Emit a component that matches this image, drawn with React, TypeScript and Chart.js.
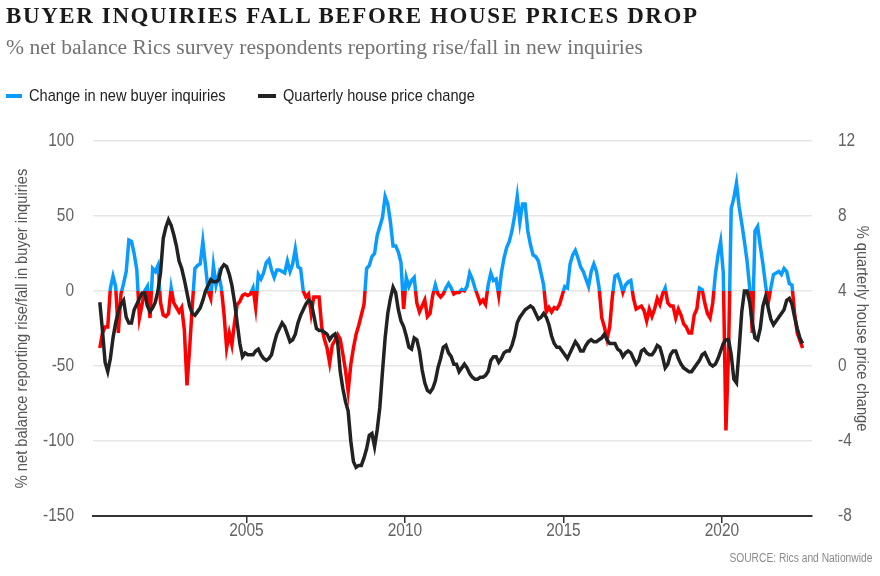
import React, { useEffect, useRef } from "react";
import { Chart, registerables } from "chart.js";

Chart.register(...registerables);

// Monthly observations, first one is May 2000
const START_YEAR = 2000;
const START_MONTH = 5;

// RICS new buyer inquiries, % net balance (left axis)
const buyerInquiries = [
  -38, -28, -24, -24, 2, 10, 3, -28, -2, 5,
  13, 34, 33, 25, 14, -18, -9, 0, 3, -18,
  15, 13, 17, -8, -16, -17, -15, 2, -8, -11,
  -14, -11, -26, -63, -38, -10, 15, 17, 18, 33,
  17, 0, -5, 17, 4, 11, 2, -15, -38, -28,
  -36, -21, -9, -7, -3, -2, -3, -2, 2, -11,
  11, 8, 12, 19, 21, 14, 9, 14, 14, 13,
  12, 20, 13, 18, 28, 16, 15, 0, -4, -2,
  -15, -4, -4, -4, -24, -32, -38, -48, -36, -33,
  -29, -32, -42, -53, -67, -49, -38, -29, -23, -16,
  -9, 15, 17, 23, 25, 37, 43, 49, 63, 58,
  46, 30, 30, 26, 19, -12, 9, 3, 7, 9,
  -8, -14, -10, -6, -17, -15, -3, 4, -2, -4,
  -2, 2, 5, 2, -2, -1, -1, 1, 0, 3,
  12, 8, 2, -3, -8, -6, -9, 4, 12, 7,
  8, -3, 12, 22, 29, 33, 40, 50, 63, 46,
  58, 58, 40, 31, 24, 23, 20, 12, 4, -14,
  -11, -14, -11, -12, -9, -3, 3, 2, 18, 24,
  27, 22, 16, 13, 8, 3, 13, 18, 13, 2,
  -18, -24, -32, -24, -4, 10, 11, 6, -1, 4,
  6, 7, -5, -12, -11, -10, -13, -20, -12, -17,
  -12, -5, -9, -2, 2, -8, -10, -10, -18, -12,
  -16, -22, -24, -28, -28, -16, -12, 2, 1, -8,
  -15, -18, -8, 11, 24, 33, 12, -93, -40, 55,
  62, 72, 56, 45, 33, 20, 2, -28, 40, 43,
  30, 18, 4, -8, 2, 11, 12, 13, 11, 15,
  13, 5, 4, -15, -28, -33, -38,
];

// Nationwide quarterly house price change, % (right axis)
const housePriceChange = [
  3.4, 1.9, 0.2, -0.3, 0.4, 1.5, 2.3, 2.9, 3.3, 3.5,
  2.6, 2.3, 2.3, 3.0, 3.3, 3.6, 3.9, 3.9, 3.2, 2.9,
  3.1, 3.4, 4.0, 5.0, 6.8, 7.4, 7.8, 7.5, 7.0, 6.4,
  5.6, 5.2, 4.6, 3.9, 3.2, 2.8, 2.7, 2.9, 3.1, 3.5,
  4.0, 4.3, 4.6, 4.5, 4.5, 4.6, 5.2, 5.4, 5.3, 4.9,
  4.3, 3.4, 2.3, 1.2, 0.5, 0.7, 0.6, 0.6, 0.6, 0.8,
  0.9, 0.6, 0.4, 0.3, 0.4, 0.6, 1.2, 1.7, 2.0, 2.3,
  2.1, 1.7, 1.3, 1.4, 1.7, 2.3, 2.7, 3.0, 3.3, 3.5,
  3.4, 2.7, 2.0, 1.9, 1.9, 1.8, 1.7, 1.4, 1.6, 1.7,
  1.3, -0.3, -1.2, -1.9, -2.4, -4.0, -5.1, -5.4, -5.3, -5.3,
  -4.9, -4.4, -3.7, -3.6, -4.3, -3.4, -2.2, -0.3, 1.5, 2.8,
  3.6, 4.2, 3.9, 3.0, 2.4, 2.1, 1.6, 1.0, 0.9, 1.5,
  1.4, 0.8, -0.2, -0.9, -1.3, -1.4, -1.2, -0.8, -0.1, 0.4,
  1.0, 1.1, 0.7, 0.5, 0.1, 0.1, -0.3, -0.1, 0.1, -0.1,
  -0.4, -0.6, -0.7, -0.7, -0.6, -0.6, -0.5, -0.3, 0.3, 0.5,
  0.5, 0.2, 0.4, 0.7, 0.8, 0.8, 1.1, 1.6, 2.3, 2.6,
  2.8, 3.0, 3.1, 3.2, 3.1, 2.8, 2.5, 2.6, 2.8, 2.6,
  2.2, 1.6, 1.2, 1.0, 1.0, 0.8, 0.6, 0.4, 0.7, 1.0,
  1.3, 1.1, 0.8, 0.8, 1.1, 1.3, 1.4, 1.3, 1.3, 1.4,
  1.5, 1.7, 1.4, 1.2, 1.2, 1.2, 0.9, 0.8, 0.5, 0.7,
  0.8, 0.7, 0.4, 0.1, 0.3, 0.8, 0.9, 0.7, 0.6, 0.6,
  0.8, 1.1, 1.0, 0.5, -0.1, 0.1, 0.6, 0.8, 0.8, 0.4,
  0.1, -0.1, -0.2, -0.3, -0.3, -0.1, 0.1, 0.3, 0.6, 0.7,
  0.4, 0.1, 0.0, 0.1, 0.4, 0.8, 1.2, 1.4, 1.4, 0.6,
  -0.7, -0.9, 0.9, 2.9, 4.0, 4.0, 3.4, 2.3, 1.5, 1.4,
  2.0, 3.2, 3.7, 3.1, 2.5, 2.2, 2.4, 2.6, 2.8, 3.0,
  3.5, 3.6, 3.3, 2.6, 2.0, 1.5, 1.2,
];

const yearTicks = [2005, 2010, 2015, 2020];
const inquiryTicks = [-150, -100, -50, 0, 50, 100];
const priceTicks = [-8, -4, 0, 4, 8, 12];

const BLUE = "#0a9bff";
const RED = "#ff0000";
const BLACK = "#222222";
const SANS = '"Liberation Sans", Arial, sans-serif';
const SERIF = '"Liberation Serif", "DejaVu Serif", serif';
// horizontal squeeze giving the sans text its narrow look
const NARROW_SCALE = 0.86;

const monthX = (i: number) => START_YEAR + (START_MONTH - 1 + i + 0.5) / 12;

// Make every fillText on this context draw horizontally condensed around its anchor
function condenseText(ctx: CanvasRenderingContext2D, factor: number) {
  const original = ctx.fillText.bind(ctx);
  ctx.fillText = (text: string, x: number, y: number, maxWidth?: number) => {
    ctx.save();
    ctx.translate(x, y);
    ctx.scale(factor, 1);
    if (maxWidth === undefined) original(text, 0, 0);
    else original(text, 0, 0, maxWidth / factor);
    ctx.restore();
  };
}

export default function App() {
  const canvasRef = useRef<HTMLCanvasElement>(null);

  useEffect(() => {
    const canvas = canvasRef.current;
    if (!canvas) return;
    const ctx = canvas.getContext("2d");
    if (!ctx) return;
    condenseText(ctx, NARROW_SCALE);

    // Blue above the zero line, red below it
    const splitAtZero = (context: any) => {
      const chart = context.chart;
      const area = chart.chartArea;
      if (!area) return BLUE;
      const zero = chart.scales.y.getPixelForValue(0);
      const stop = Math.min(1, Math.max(0, (zero - area.top) / (area.bottom - area.top)));
      const g = chart.ctx.createLinearGradient(0, area.top, 0, area.bottom);
      g.addColorStop(0, BLUE);
      g.addColorStop(stop, BLUE);
      g.addColorStop(stop, RED);
      g.addColorStop(1, RED);
      return g;
    };

    const tickFont = { family: SANS, size: 18 };
    const titleFont = { family: SANS, size: 17 };

    const chart = new Chart(ctx, {
      type: "line",
      data: {
        datasets: [
          {
            label: "Quarterly house price change",
            data: housePriceChange.map((v, i) => ({ x: monthX(i), y: v })),
            yAxisID: "y2",
            borderColor: BLACK,
            borderWidth: 3.5,
            pointRadius: 0,
            tension: 0,
            order: 0,
          },
          {
            label: "Change in new buyer inquiries",
            data: buyerInquiries.map((v, i) => ({ x: monthX(i), y: v })),
            yAxisID: "y",
            borderColor: splitAtZero,
            borderWidth: 3.5,
            pointRadius: 0,
            tension: 0,
            order: 1,
          },
        ],
      },
      options: {
        responsive: false,
        animation: false,
        devicePixelRatio: 1,
        events: [],
        layout: { padding: { top: 141, left: 0, right: 0, bottom: 0 } },
        plugins: { legend: { display: false }, tooltip: { enabled: false } },
        scales: {
          x: {
            type: "linear",
            min: 2000.16,
            max: 2022.84,
            afterBuildTicks: (s: any) => {
              s.ticks = yearTicks.map((v) => ({ value: v }));
            },
            afterFit: (s: any) => {
              s.height = 60;
            },
            ticks: {
              callback: (v: any) => String(v),
              font: tickFont,
              color: "#636363",
              padding: -3,
              maxRotation: 0,
            },
            grid: {
              drawOnChartArea: false,
              drawTicks: true,
              tickLength: 7,
              color: "#333333",
              lineWidth: 1.5,
            },
            border: { display: true, color: "#333333", width: 2 },
          },
          y: {
            position: "left",
            min: inquiryTicks[0],
            max: inquiryTicks[inquiryTicks.length - 1],
            afterBuildTicks: (s: any) => {
              s.ticks = inquiryTicks.map((v) => ({ value: v }));
            },
            afterFit: (s: any) => {
              s.width = 93;
            },
            ticks: { font: tickFont, color: "#636363", padding: 19 },
            grid: { color: "#e6e6e6", lineWidth: 1.5, drawTicks: false },
            border: { display: false },
            title: {
              display: true,
              text: "% net balance reporting rise/fall in buyer inquiries",
              font: titleFont,
              color: "#555555",
              padding: { top: 12, bottom: 0 },
            },
          },
          y2: {
            position: "right",
            min: priceTicks[0],
            max: priceTicks[priceTicks.length - 1],
            afterBuildTicks: (s: any) => {
              s.ticks = priceTicks.map((v) => ({ value: v }));
            },
            afterFit: (s: any) => {
              s.width = 68;
            },
            ticks: { font: tickFont, color: "#636363", padding: 18 },
            grid: { display: false },
            border: { display: false },
            title: {
              display: true,
              text: "% quarterly house price change",
              font: titleFont,
              color: "#555555",
              padding: { top: 8, bottom: 0 },
            },
          },
        },
      },
    } as any);

    return () => chart.destroy();
  }, []);

  const narrowText = (left: number, top: number, size: number, color: string): React.CSSProperties => ({
    position: "absolute",
    left,
    top,
    font: `${size}px ${SANS}`,
    lineHeight: "20px",
    color,
    whiteSpace: "nowrap",
    transform: `scaleX(${NARROW_SCALE})`,
    transformOrigin: "left center",
  });

  const swatch = (left: number, width: number, color: string): React.CSSProperties => ({
    position: "absolute",
    left,
    top: 94,
    width,
    height: 4,
    background: color,
  });

  return (
    <div
      style={{
        position: "absolute",
        left: 0,
        top: 0,
        width: 880,
        height: 576,
        background: "#ffffff",
        overflow: "hidden",
      }}
    >
      <canvas
        ref={canvasRef}
        width={880}
        height={576}
        style={{ position: "absolute", left: 0, top: 0 }}
      />
      <div
        style={{
          position: "absolute",
          left: 6,
          top: 3,
          font: `bold 23px ${SERIF}`,
          letterSpacing: "1.6px",
          color: "#1a1a1a",
          whiteSpace: "nowrap",
          lineHeight: "26px",
        }}
      >
        BUYER INQUIRIES FALL BEFORE HOUSE PRICES DROP
      </div>
      <div
        style={{
          position: "absolute",
          left: 6,
          top: 34,
          font: `21.6px ${SERIF}`,
          color: "#737373",
          whiteSpace: "nowrap",
          lineHeight: "26px",
        }}
      >
        % net balance Rics survey respondents reporting rise/fall in new inquiries
      </div>

      <span style={swatch(6, 16, BLUE)} />
      <span style={narrowText(29, 86, 17, "#222222")}>Change in new buyer inquiries</span>
      <span style={swatch(258, 18, BLACK)} />
      <span style={narrowText(283, 86, 17, "#222222")}>Quarterly house price change</span>

      <div
        style={{
          position: "absolute",
          right: 8,
          top: 550,
          font: `12.5px ${SANS}`,
          color: "#8a8a8a",
          whiteSpace: "nowrap",
          lineHeight: "16px",
          transform: "scaleX(0.82)",
          transformOrigin: "right center",
        }}
      >
        SOURCE: Rics and Nationwide
      </div>
    </div>
  );
}
